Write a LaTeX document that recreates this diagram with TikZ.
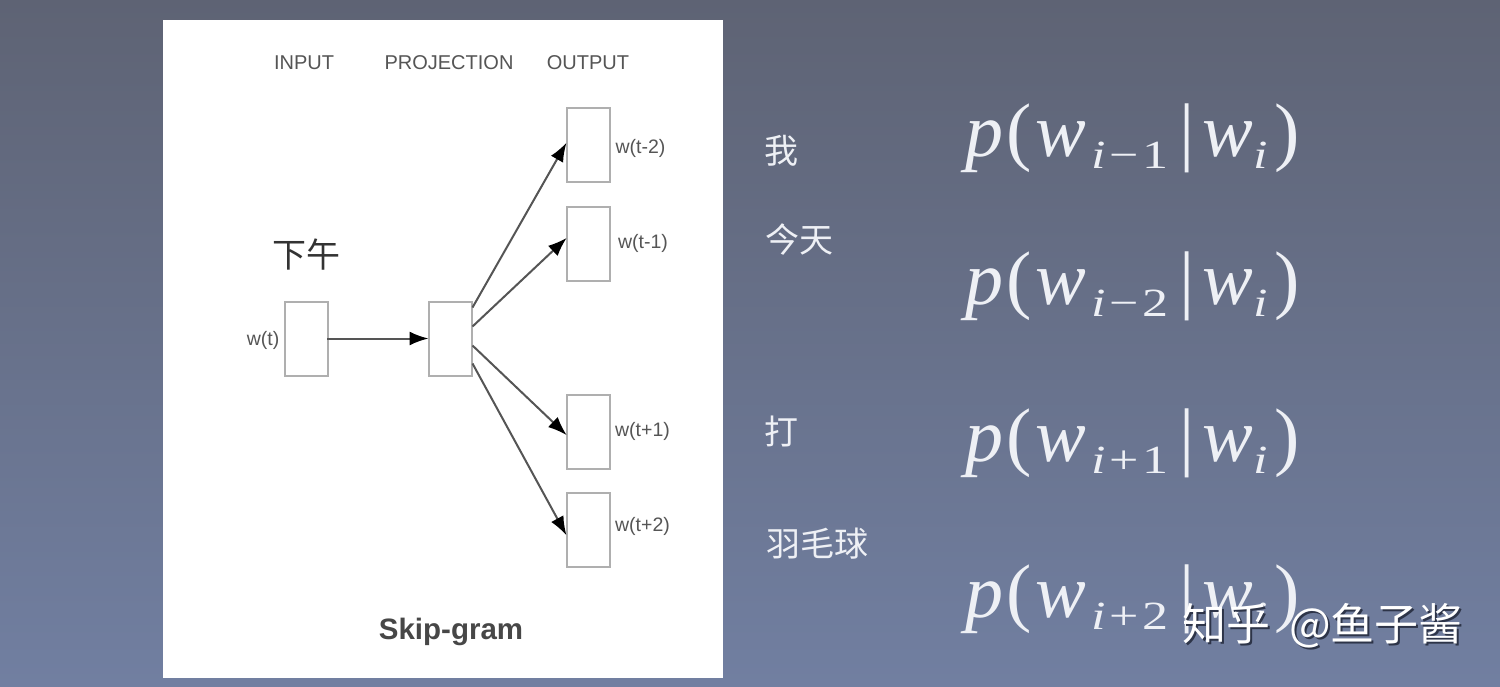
\documentclass[tikz,border=0pt]{standalone}
\usepackage{fontspec}
\setmainfont{Liberation Sans}
\newfontfamily\cjk{Noto Sans CJK SC}
\newfontfamily\eqserif{Liberation Serif}
\usetikzlibrary{arrows.meta}
\definecolor{bgtop}{RGB}{94,99,116}
\definecolor{bgmid}{RGB}{107,119,146}
\definecolor{bgbot}{RGB}{113,127,161}
\definecolor{softwhite}{RGB}{238,240,245}
\definecolor{labelgray}{RGB}{85,85,85}
\definecolor{boxgray}{RGB}{175,175,175}
\definecolor{wmshadow}{RGB}{45,52,72}
\newcommand{\subpart}[1]{\raisebox{-12pt}{\fontsize{40}{40}\selectfont\scalebox{1.3}[1]{#1}}}
\newcommand{\eqline}[2]{\eqserif\fontsize{76}{76}\selectfont
  \textit{p}\kern3pt(\kern4pt\textit{w}\kern5pt\subpart{\textit{i}\kern3pt#1\kern3pt#2}\kern11pt|\kern8pt\textit{w}\kern0pt\subpart{\textit{i}}\kern6pt)}
\newcommand{\shadowed}[1]{\rlap{\kern2pt\raisebox{-2pt}{\textcolor{wmshadow}{#1}}}#1}
\tikzset{
  layerbox/.style={draw=boxgray,line width=2pt,fill=white,minimum width=43pt,minimum height=74pt,inner sep=0pt,anchor=north west},
  headtext/.style={font=\fontsize{20}{20}\selectfont,text=labelgray,inner sep=0pt},
  wordtext/.style={font=\fontsize{19.5}{20}\selectfont,text=labelgray,inner sep=0pt},
  cntext/.style={font=\cjk\fontsize{34}{34}\selectfont,text=softwhite,inner sep=0pt},
  eqtext/.style={text=softwhite,inner sep=0pt,anchor=base west},
  flow/.style={draw=labelgray,line width=2pt,-{Latex[length=19pt,width=14pt,black]},shorten >=-1pt}
}
\begin{document}
\begin{tikzpicture}[x=1pt,y=-1pt]
\shade[top color=bgtop,middle color=bgmid,bottom color=bgbot,shading angle=0] (0,0) rectangle (1500,686);
\useasboundingbox (0,0) rectangle (1500,686);
\fill[white] (163,20) rectangle (723,678);
\node[headtext] (hin) at (304,63) {INPUT};
\node[headtext] (hpr) at (449,63) {PROJECTION};
\node[headtext] (hou) at (588,63) {OUTPUT};
\node[layerbox] (inp) at (284,300.5) {};
\node[layerbox] (prj) at (427.5,300.5) {};
\node[layerbox] (o1) at (566,107) {};
\node[layerbox] (o2) at (566,205.5) {};
\node[layerbox] (o3) at (566,393.5) {};
\node[layerbox] (o4) at (566,491.5) {};
\node[wordtext] (lin) at (263,340) {w(t)};
\node[wordtext] (l1) at (640.5,148) {w(t-2)};
\node[wordtext] (l2) at (643,243.5) {w(t-1)};
\node[wordtext] (l3) at (642.5,431) {w(t+1)};
\node[wordtext] (l4) at (642.5,526.5) {w(t+2)};
\node[font=\cjk\fontsize{34}{34}\selectfont,text=black!80,inner sep=0pt] (xw) at (306,255) {下午};
\draw[flow] ([xshift=-2pt]inp.east) -- (prj.west);
\draw[flow] ([yshift=31pt]prj.east) -- ([yshift=1.5pt]o1.west);
\draw[flow] ([yshift=12pt]prj.east) -- ([yshift=5pt]o2.west);
\draw[flow] ([yshift=-7pt]prj.east) -- ([yshift=-3pt]o3.west);
\draw[flow] ([yshift=-25pt]prj.east) -- ([yshift=-5pt]o4.west);
\node[font=\bfseries\fontsize{29.5}{30}\selectfont,text=black!72,inner sep=0pt] (title) at (451,632) {Skip-gram};
\node[cntext] (c1) at (781,151) {我};
\node[cntext] (c2) at (799,240) {今天};
\node[cntext] (c3) at (781,431) {打};
\node[cntext] (c4) at (817,544) {羽毛球};
\node[eqtext] (e1) at (965,156) {\eqline{−}{1}};
\node[eqtext] (e2) at (965,304) {\eqline{−}{2}};
\node[eqtext] (e3) at (965,461) {\eqline{+}{1}};
\node[eqtext] (e4) at (965,617) {\eqline{+}{2}};
\node[font=\cjk\fontsize{44}{44}\selectfont,text=white,inner sep=0pt,anchor=base west] (wm) at (1182,640) {\shadowed{知乎}\kern19pt\shadowed{@鱼子酱}};
\end{tikzpicture}
\end{document}
